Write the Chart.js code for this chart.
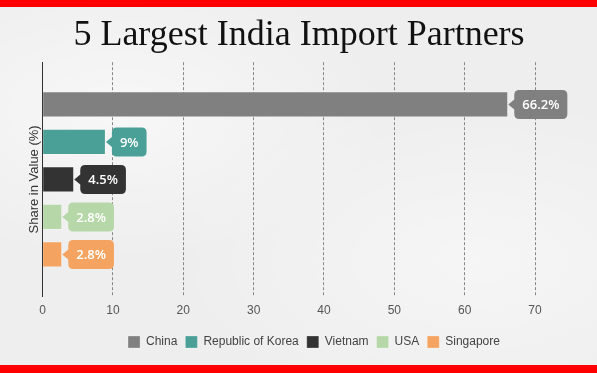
<!DOCTYPE html>
<html>
<head>
<meta charset="utf-8">
<script src="https://cdn.jsdelivr.net/npm/chart.js@4/dist/chart.umd.min.js"></script>
<style>
  html, body { margin: 0; padding: 0; overflow: hidden; }
  body {
    width: 597px; height: 373px; position: relative;
    background: #eeeeee;
    background-image:
      radial-gradient(ellipse at 20% 30%, rgba(255,255,255,0.55), rgba(255,255,255,0) 40%),
      radial-gradient(ellipse at 80% 70%, rgba(255,255,255,0.45), rgba(255,255,255,0) 45%);
  }
  .band { position: absolute; left: 0; width: 597px; background: #ff0000; }
  #top { top: 0; height: 7px; }
  #bottom { bottom: 0; height: 8px; }
  #wrap { position: absolute; left: 0; top: 0; width: 597px; height: 373px; }
</style>
</head>
<body>
<div id="wrap"><canvas id="chart"></canvas></div>
<div class="band" id="top"></div>
<div class="band" id="bottom"></div>
<script>
var partners = ["China", "Republic of Korea", "Vietnam", "USA", "Singapore"];
var shares = [66.2, 9, 4.5, 2.8, 2.8];
var colors = ["#808080", "#4a9f96", "#333333", "#b6d7a8", "#f4a460"];
var xTicks = [0, 10, 20, 30, 40, 50, 60, 70];

// callout labels at the end of each bar
var calloutPlugin = {
  id: "callouts",
  afterDatasetsDraw: function (chart) {
    var ctx = chart.ctx;
    ctx.save();
    ctx.font = "600 13px 'Open Sans'";
    ctx.textAlign = "center";
    ctx.textBaseline = "middle";
    chart.data.datasets.forEach(function (ds, i) {
      var bar = chart.getDatasetMeta(i).data[0];
      var text = ds.data[0] + "%";
      var w = ctx.measureText(text).width + 16;
      var h = 29;
      var x0 = bar.x + 6;
      var y0 = bar.y - h / 2;
      var r = 5;
      ctx.fillStyle = ds.backgroundColor;
      ctx.beginPath();
      ctx.moveTo(x0 + r, y0);
      ctx.lineTo(x0 + w - r, y0);
      ctx.quadraticCurveTo(x0 + w, y0, x0 + w, y0 + r);
      ctx.lineTo(x0 + w, y0 + h - r);
      ctx.quadraticCurveTo(x0 + w, y0 + h, x0 + w - r, y0 + h);
      ctx.lineTo(x0 + r, y0 + h);
      ctx.quadraticCurveTo(x0, y0 + h, x0, y0 + h - r);
      ctx.lineTo(x0, bar.y + 5);
      ctx.lineTo(bar.x, bar.y);
      ctx.lineTo(x0, bar.y - 5);
      ctx.lineTo(x0, y0 + r);
      ctx.quadraticCurveTo(x0, y0, x0 + r, y0);
      ctx.closePath();
      ctx.fill();
      ctx.fillStyle = "#ffffff";
      ctx.fillText(text, x0 + w / 2, bar.y + 1);
    });
    ctx.restore();
  }
};

// the original centres title and legend on the page, not the plot
var boxShift = {
  id: "boxShift",
  afterLayout: function (chart) {
    chart.legend.left += 33;
    chart.legend.right += 33;
    chart.legend.top += 3;
    chart.legend.bottom += 3;
    chart.titleBlock.left += 18;
    chart.titleBlock.right += 18;
  }
};

var datasets = partners.map(function (p, i) {
  return {
    label: p,
    data: [shares[i]],
    backgroundColor: colors[i],
    borderColor: "rgba(255,255,255,0.25)",
    borderWidth: 1,
    categoryPercentage: 0.8,
    barPercentage: 0.7
  };
});

Chart.defaults.font.family = "Arial, 'Liberation Sans'";
Chart.defaults.color = "#555";

new Chart(document.getElementById("chart"), {
  type: "bar",
  data: { labels: [""], datasets: datasets },
  options: {
    indexAxis: "y",
    responsive: true,
    maintainAspectRatio: false,
    animation: false,
    layout: { padding: { left: 27, right: 62, top: 8, bottom: 18 } },
    scales: {
      x: {
        min: 0,
        max: 70,
        afterBuildTicks: function (axis) {
          axis.ticks = xTicks.map(function (v) { return { value: v }; });
        },
        ticks: { padding: 7, color: "#555", font: { size: 12 } },
        grid: { color: "#888", drawTicks: false },
        border: { display: false, dash: [3, 2] }
      },
      y: {
        ticks: { display: false },
        grid: { display: false, drawTicks: false },
        border: { display: true, color: "#333", dash: [4, 3] },
        title: { display: true, text: "Share in Value (%)", color: "#333", font: { size: 13 }, padding: { top: 0, bottom: 0 } }
      }
    },
    plugins: {
      title: {
        display: true,
        text: "5 Largest India Import Partners",
        color: "#111",
        font: { family: "'Liberation Serif'", size: 36, weight: "normal" },
        padding: { top: 6, bottom: 5 }
      },
      legend: {
        position: "bottom",
        labels: { boxWidth: 12, boxHeight: 12, padding: 8, color: "#444", font: { size: 12 } }
      },
      tooltip: { enabled: false }
    }
  },
  plugins: [calloutPlugin, boxShift]
});
</script>
</body>
</html>
